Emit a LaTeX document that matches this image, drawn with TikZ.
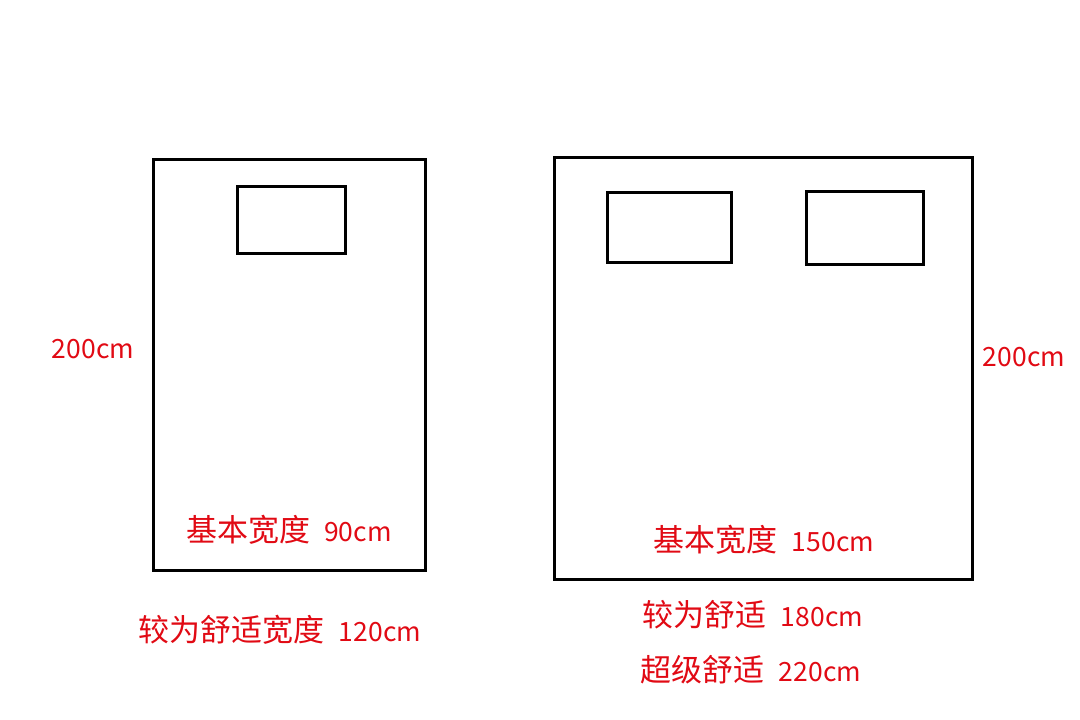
\documentclass[tikz,border=0pt]{standalone}
\usepackage{fontspec}
\setmainfont{Noto Sans CJK SC}
\definecolor{labelred}{RGB}{225,10,20}
\newcommand\zh[1]{{\fontsize{31}{34}\selectfont #1}\hspace{14pt}}

\begin{document}
\begin{tikzpicture}[x=1pt, y=-1pt,
  bed/.style={line width=3pt},
  note/.style={text=labelred, font=\fontsize{26.5}{32}\selectfont, inner sep=0pt}]
\useasboundingbox (0,0) rectangle (1080,720);
% single bed
\draw[bed] (153,159) rectangle (425,570);
\draw[bed] (237,186) rectangle (345,253);
% double bed
\draw[bed] (554,157) rectangle (972,579);
\draw[bed] (607,192) rectangle (731,262);
\draw[bed] (806,191) rectangle (923,264);
% labels
\node[note] (lenleft) at (93,349) {200cm};
\node[note] (lenright) at (1024,357) {200cm};
\node[note] (basicleft) at (289,530) {\zh{基本宽度}90cm};
\node[note] (comfleft) at (280,630) {\zh{较为舒适宽度}120cm};
\node[note] (basicright) at (764,540) {\zh{基本宽度}150cm};
\node[note] (comfright) at (753,615) {\zh{较为舒适}180cm};
\node[note] (superright) at (751,670) {\zh{超级舒适}220cm};
\end{tikzpicture}
\end{document}
